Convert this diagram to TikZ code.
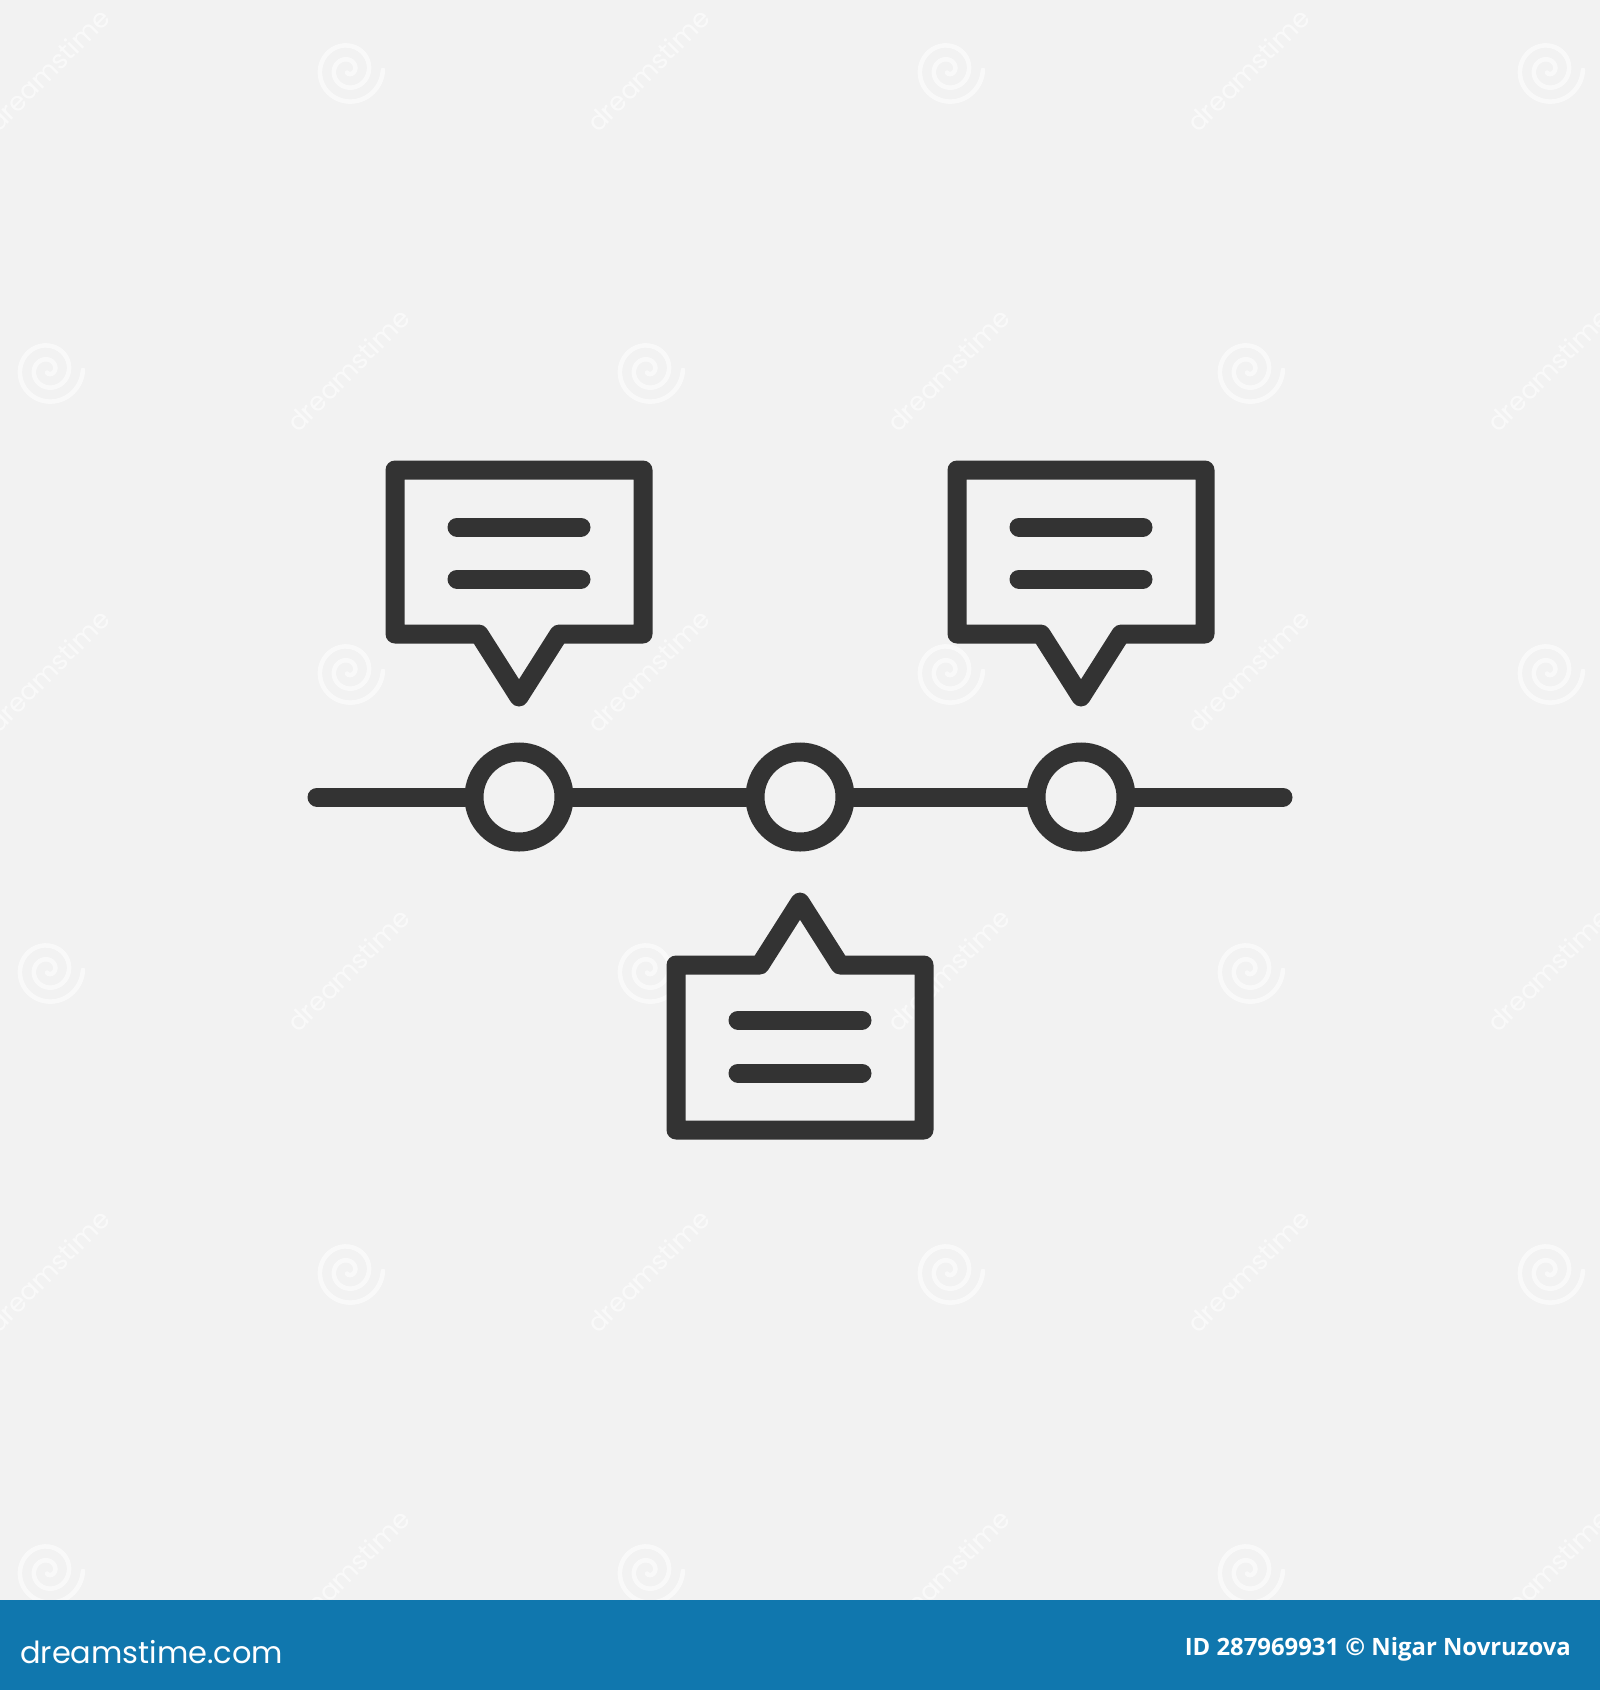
\documentclass[tikz,border=0pt]{standalone}
\usepackage{fontspec}
\setmainfont{Open Sans}
\newfontfamily\logofont{Poppins}
\definecolor{bg}{HTML}{F2F2F2}
\definecolor{ink}{HTML}{333333}
\definecolor{barblue}{HTML}{1077AE}
\begin{document}
\begin{tikzpicture}[x=1pt,y=-1pt,
  icon/.style={draw=ink,line width=19pt,line cap=round,line join=round},
  dotnode/.style={circle,draw=ink,line width=19pt,minimum size=90pt,inner sep=0pt},
  wmring/.style={draw=white,line width=4.5pt,opacity=0.6,line cap=round},
  wmtext/.style={text=white,opacity=0.6,rotate=45,font=\logofont\fontsize{26}{26}\selectfont}]
\useasboundingbox (0,0) rectangle (1600,1690);
\fill[bg] (0,0) rectangle (1600,1600);
% watermarks
\foreach \yy/\off in {70/0,370/1,671/0,970/1,1271/0,1571/1}{
  \foreach \k in {0,1,2}{
    \pgfmathsetmacro{\sx}{\off==0 ? 348+600*\k : 48+600*\k}
    \pgfmathsetmacro{\tx}{\off==0 ? 48+600*\k : 348+600*\k}
    \draw[wmring] plot[domain=0:830,samples=90,smooth]
      ({\sx+35*(1-\x/900)*cos(\x)},{\yy+35*(1-\x/900)*sin(\x)});
    \node[wmtext] (wm-\yy-\k) at (\tx,\yy) {dreamstime};
  }
}
% timeline
\coordinate (tl) at (317,797);
\coordinate (tr) at (1283,797);
\node[dotnode] (c1) at (519,797) {};
\node[dotnode] (c2) at (800,797) {};
\node[dotnode] (c3) at (1081,797) {};
\draw[icon] (tl) -- (c1);
\draw[icon] (c1) -- (c2);
\draw[icon] (c2) -- (c3);
\draw[icon] (c3) -- (tr);
% upper bubbles
\foreach \xc/\nm in {519/b1,1081/b2}{
  \coordinate (\nm-tip) at (\xc,697);
  \draw[icon] (\xc-40,634) -- (\xc-124,634) -- (\xc-124,470) -- (\xc+124,470)
     -- (\xc+124,634) -- (\xc+40,634) -- (\nm-tip) -- cycle;
  \draw[icon] (\xc-62,527) -- (\xc+62,527);
  \draw[icon] (\xc-62,579) -- (\xc+62,579);
}
% lower bubble
\coordinate (b3-tip) at (800,902);
\draw[icon] (760,965) -- (676,965) -- (676,1130) -- (924,1130) -- (924,965)
   -- (840,965) -- (b3-tip) -- cycle;
\draw[icon] (738,1020) -- (862,1020);
\draw[icon] (738,1073) -- (862,1073);
% bottom bar
\fill[barblue] (0,1600) rectangle (1600,1690);
\node[anchor=base west,inner sep=0pt,text=white] (logo) at (20,1663)
  {\resizebox{263pt}{!}{\logofont dreamstime.com}};
\node[anchor=base east,inner sep=0pt,text=white] (credit) at (1571,1655)
  {\resizebox{386pt}{!}{\bfseries ID 287969931 © Nigar Novruzova}};
\end{tikzpicture}
\end{document}
